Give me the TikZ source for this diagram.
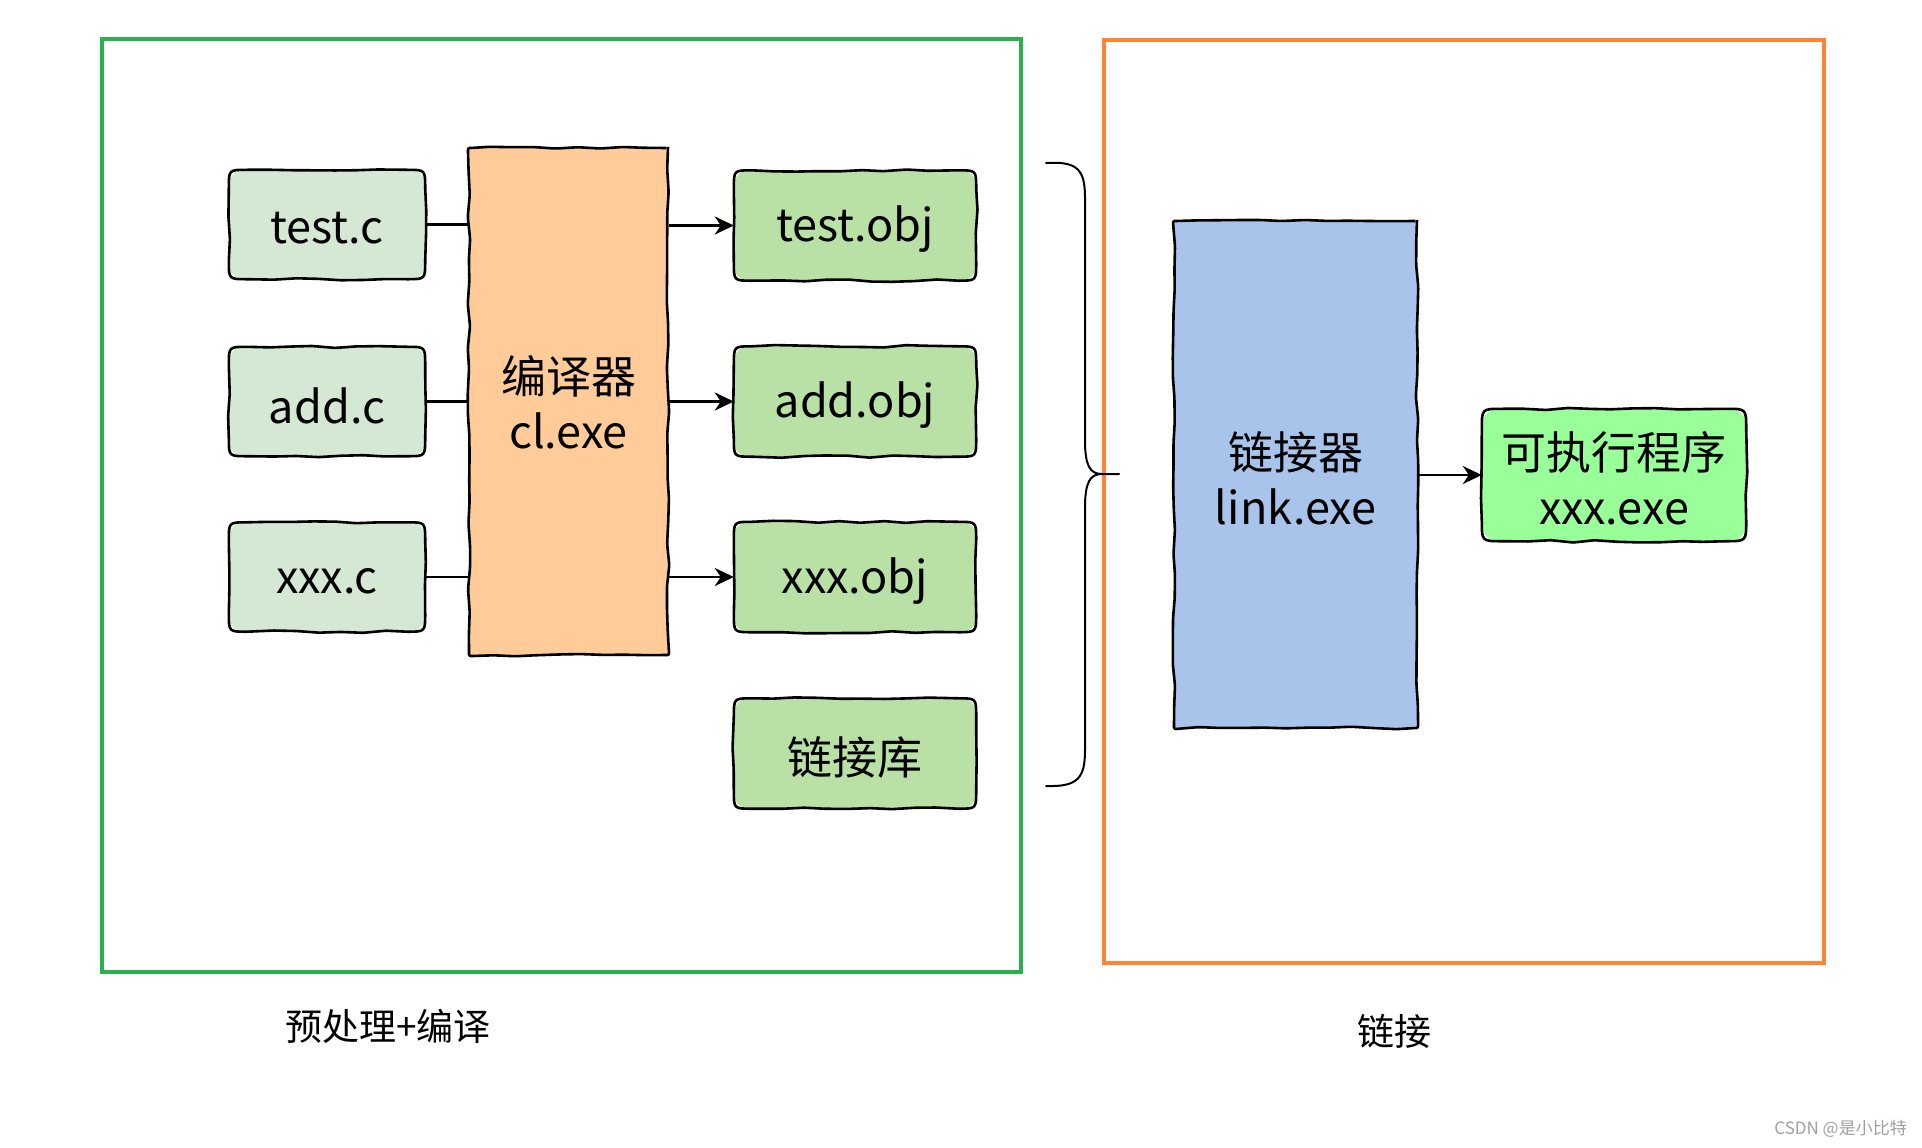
\documentclass[tikz,border=0pt]{standalone}
\usepackage{fontspec}
\setmainfont{Noto Sans CJK SC}
\usetikzlibrary{arrows.meta,decorations.pathmorphing}
\definecolor{srcfill}{HTML}{D5E8D4}
\definecolor{objfill}{HTML}{B9E0A5}
\definecolor{compfill}{HTML}{FFCC99}
\definecolor{linkfill}{HTML}{A9C4EB}
\definecolor{exefill}{HTML}{99FF99}
\definecolor{framegreen}{HTML}{28B14C}
\definecolor{frameorange}{HTML}{FF8533}
\definecolor{wmgray}{HTML}{A0A0A0}
\newcommand\lowtext[1]{\raisebox{-4pt}[\height][\depth]{#1}}
\newcommand\twolines[3][9pt]{\raisebox{-#1}[\height][\depth]{\begin{tabular}{@{}c@{}}#2\\#3\end{tabular}}}
\newcommand\skoutline[2]{%
  \draw[skline]
    ([xshift=#2]#1.north west) decorate{([xshift=#2]#1.north west) -- ([xshift=-#2]#1.north east)}
    .. controls (#1.north east) .. ([yshift=-#2]#1.north east)
    decorate{([yshift=-#2]#1.north east) -- ([yshift=#2]#1.south east)}
    .. controls (#1.south east) .. ([xshift=-#2]#1.south east)
    decorate{([xshift=-#2]#1.south east) -- ([xshift=#2]#1.south west)}
    .. controls (#1.south west) .. ([yshift=#2]#1.south west)
    decorate{([yshift=#2]#1.south west) -- ([yshift=-#2]#1.north west)}
    .. controls (#1.north west) .. ([xshift=#2]#1.north west);}
\begin{document}
\begin{tikzpicture}[x=1pt,y=-1pt,
  sketch/.style={decorate,decoration={random steps,segment length=22pt,amplitude=1.3pt}},
  skline/.style={line width=2.6pt,line join=round,line cap=round,draw=black,
    decoration={random steps,segment length=22pt,amplitude=1.3pt}},
  box/.style={inner sep=0pt,align=center,font=\fontsize{45}{55}\selectfont},
  filebox/.style={box,rounded corners=14pt,minimum width=196pt,minimum height=109pt,fill=srcfill},
  objbox/.style={box,rounded corners=14pt,minimum width=242pt,minimum height=110pt,fill=objfill},
  toolbox/.style={box,draw=black,line width=2.6pt,sketch,rounded corners=2pt,minimum width=199pt,minimum height=507pt},
  conn/.style={line width=2.4pt,draw=black},
  arr/.style={conn,-{Stealth[length=19pt,width=18pt,inset=6pt]}},
  frame/.style={line width=4.5pt},
  caption/.style={font=\fontsize{37}{44}\selectfont,inner sep=0pt}
]
\pgfmathsetseed{11}
\fill[white] (0,0) rectangle (1922,1148);
\useasboundingbox (0,0) rectangle (1922,1148);

% frames
\draw[frame,framegreen] (102,39) rectangle (1021,972);
\draw[frame,frameorange] (1104,40) rectangle (1824,963);

% source files
\node[filebox] (testc) at (327,224.5) {\lowtext{test.c}};
\node[filebox] (addc)  at (327,401.5) {\lowtext{add.c}};
\node[filebox] (xxxc)  at (327,577)   {\lowtext{xxx.c}};
\skoutline{testc}{18pt}
\skoutline{addc}{18pt}
\skoutline{xxxc}{18pt}

% compiler
\node[toolbox,fill=compfill] (comp) at (568.5,401.5) {\twolines[8pt]{编译器}{cl.exe}};

% object files
\node[objbox] (testobj) at (855,225.5) {\lowtext{test.obj}};
\node[objbox] (addobj)  at (855,401.5) {\lowtext{add.obj}};
\node[objbox] (xxxobj)  at (855,577)   {\lowtext{xxx.obj}};
\node[objbox] (lib)     at (855,753.5) {\lowtext{链接库}};
\skoutline{testobj}{18pt}
\skoutline{addobj}{18pt}
\skoutline{xxxobj}{18pt}
\skoutline{lib}{18pt}

% linker
\node[toolbox,fill=linkfill,minimum width=243pt] (linker) at (1295.5,474.5) {\twolines[11pt]{链接器}{link.exe}};

% executable
\node[box,rounded corners=16pt,minimum width=264pt,minimum height=132pt,fill=exefill] (exe) at (1614,475) {\twolines[10.5pt]{可执行程序}{xxx.exe}};
\skoutline{exe}{20pt}

% connectors
\draw[conn] (testc.east) -- (comp.west |- testc.east);
\draw[conn] (addc.east) -- (comp.west |- addc.east);
\draw[conn] (xxxc.east) -- (comp.west |- xxxc.east);
\draw[arr] (comp.east |- testobj.west) -- (testobj.west);
\draw[arr] (comp.east |- addobj.west) -- (addobj.west);
\draw[arr] (comp.east |- xxxobj.west) -- (xxxobj.west);
\draw[arr] (linker.east |- exe.west) -- (exe.west);

% brace
\coordinate (btop) at (1046,163);
\coordinate (bbot) at (1046,786);
\coordinate (btip) at (1119,474);
\draw[line width=2pt,line cap=round]
  (btop) .. controls (1078,161) and (1085,170) .. (1085,198)
  -- (1085,440) .. controls (1085,466) and (1090,474) .. (1102,474)
  -- (btip);
\draw[line width=2pt,line cap=round]
  (1102,474) .. controls (1090,474) and (1085,482) .. (1085,508)
  -- (1085,750) .. controls (1085,778) and (1078,787) .. (bbot);

% captions
\node[caption] (cap1) at (388,1026) {预处理+编译};
\node[caption] (cap2) at (1394,1031) {链接};
\node[font=\fontsize{17}{20}\selectfont,text=wmgray,anchor=east,inner sep=0pt] (wm) at (1907,1129) {CSDN @是小比特};
\end{tikzpicture}
\end{document}
